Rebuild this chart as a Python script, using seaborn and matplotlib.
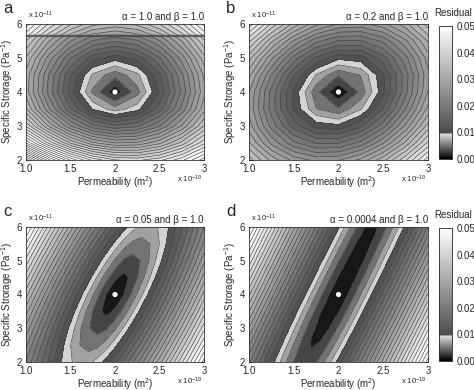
import numpy as np
import matplotlib
matplotlib.use("Agg")
import matplotlib.pyplot as plt
from matplotlib.colors import LinearSegmentedColormap, Normalize
from matplotlib.cm import ScalarMappable
import seaborn as sns

sns.set_theme(style="ticks")
plt.rcParams['font.family'] = ['Liberation Sans', 'DejaVu Sans']
plt.rcParams['mathtext.fontset'] = 'custom'
plt.rcParams['mathtext.rm'] = 'Liberation Sans'
plt.rcParams['mathtext.it'] = 'Liberation Sans:italic'

# ── panels
panel_letters = ['a', 'b', 'c', 'd']
alpha_labels = ['1.0', '0.2', '0.05', '0.0004']
beta_labels = ['1.0', '1.0', '1.0', '1.0']

# residual surface shape (units: 1e-19 m2 and 1e-11 1/Pa)
sx_list = [0.44, 0.62, 5.0, 50.0]       # half width of the 0.01 contour along k
sy_up_list = [0.95, 1.00, 2.6, 10.0]    # ... along Ss, above the optimum
sy_down_list = [0.75, 1.00, 2.6, 5.8]   # ... along Ss, below the optimum
su_list = [4.0, 0.66, 0.37, 0.37]       # half width across the k-Ss valley
power_list = [1.3, 1.3, 1.25, 1.3]
corner_list = [0.022, 0.0, 0.0, 0.0]    # extra misfit in the low k / low Ss corner
top_step_list = [0.007, 0.0, 0.0, 0.0]  # jump in the top rows of panel a

# spacing of the parameter runs in each panel
k_step_list = [0.25, 0.25, 0.1, 0.1]
ss_step_list = [0.5, 0.5, 0.5, 0.25]
ss_extra_a = [5.62, 5.68]

k_best = 2.0
ss_best = 4.0
valley_slope = 5.4

x_ticks = [1.0, 1.5, 2.0, 2.5, 3.0]
x_tick_labels = ['1.0', '1.5', '2', '2.5', '3']
y_ticks = [2, 3, 4, 5, 6]
y_tick_labels = ['2', '3', '4', '5', '6']
cbar_ticks = [0.0, 0.01, 0.02, 0.03, 0.04, 0.05]
level_step = 0.002
res_max = 0.05

# ── colormap : black->light gray under 0.01, dark gray->white above
cmap = LinearSegmentedColormap.from_list(
    'resid', [(0.0, '0.0'), (0.185, '0.85'), (0.2, '0.3'), (1.0, '1.0')])
cmap.set_over('white')
norm = Normalize(vmin=0, vmax=res_max)
levels = np.arange(0, 0.2 + level_step, level_step)


def residual(i):
    xx = np.arange(1.0, 3.001, k_step_list[i])
    yy = np.arange(2.0, 6.001, ss_step_list[i])
    if i == 0:
        yy = np.sort(np.r_[yy, ss_extra_a])
    X, Y = np.meshgrid(xx, yy)
    dx = X - k_best
    dy = Y - ss_best
    u = dx - dy / valley_slope
    sy = np.where(dy > 0, sy_up_list[i], sy_down_list[i])
    t = np.sqrt((dx / sx_list[i]) ** 2 + (dy / sy) ** 2 + (u / su_list[i]) ** 2)
    R = 0.01 * t ** power_list[i]
    R += corner_list[i] * np.exp(-((X - 1.0) / 0.8 + (Y - 2.0) / 0.8))
    R += top_step_list[i] * (Y > 5.65)
    return X, Y, R


W, H = 474, 390
fig = plt.figure(figsize=(W / 100, H / 100), dpi=100)

ax_pos = [(26, 24, 204, 160), (249, 24, 428, 160),
          (26, 227, 204, 362), (249, 227, 428, 362)]
cb_pos = [(439, 26, 452, 159), (439, 228, 452, 361)]
fs = 7

for i in range(4):
    l, t, r, b = ax_pos[i]
    ax = fig.add_axes([l / W, 1 - b / H, (r - l) / W, (b - t) / H])
    X, Y, R = residual(i)
    ax.contourf(X, Y, R, levels=levels, cmap=cmap, norm=norm, extend='max')
    ax.contour(X, Y, R, levels=levels, colors='0.25', linewidths=0.45)
    sns.scatterplot(x=[k_best], y=[ss_best], color='white', s=14,
                    edgecolor='none', ax=ax, zorder=5, legend=False)
    ax.set_xlim(1, 3)
    ax.set_ylim(2, 6)
    ax.set_xticks(x_ticks)
    ax.set_xticklabels(x_tick_labels)
    ax.set_yticks(y_ticks)
    ax.set_yticklabels(y_tick_labels)
    ax.tick_params(direction='in', length=3, width=0.6, labelsize=fs, pad=3,
                   top=True, right=True)
    for s in ax.spines.values():
        s.set_linewidth(0.6)
        s.set_color('0.2')
    ax.set_xlabel('Permeability (m$^2$)', fontsize=fs, labelpad=0)
    ax.set_ylabel('Specific Strorage (Pa$^{-1}$)', fontsize=fs, labelpad=1)
    ax.text(1.0, 1.015, f'\u03b1 = {alpha_labels[i]} and \u03b2 = {beta_labels[i]}',
            transform=ax.transAxes, ha='right', va='bottom', fontsize=fs)
    ax.text(0.01, 1.02, 'x 10$^{-11}$', transform=ax.transAxes,
            ha='left', va='bottom', fontsize=5.5)
    ax.text(0.99, -0.1, 'x 10$^{-19}$', transform=ax.transAxes,
            ha='right', va='top', fontsize=5.5)
    fig.text((l - 23) / W, 1 - (t - 23) / H, panel_letters[i], ha='left', va='top',
             fontsize=12)

for l, t, r, b in cb_pos:
    cax = fig.add_axes([l / W, 1 - b / H, (r - l) / W, (b - t) / H])
    cb = fig.colorbar(ScalarMappable(norm=norm, cmap=cmap), cax=cax)
    cb.set_ticks(cbar_ticks)
    cb.set_ticklabels([f'{v:.2f}' for v in cbar_ticks])
    cb.ax.tick_params(direction='in', length=2, width=0.6, labelsize=fs, pad=3)
    cb.outline.set_linewidth(0.6)
    fig.text(453 / W, 1 - (t - 8) / H, 'Residual', ha='center',
             va='bottom', fontsize=fs)

plt.savefig('out.png', dpi=100)
plt.close()
